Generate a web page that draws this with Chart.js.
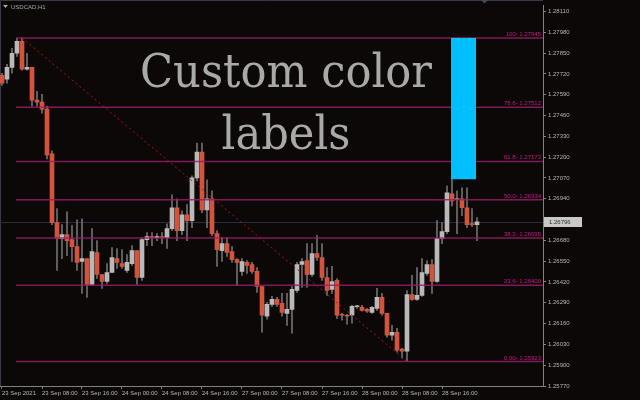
<!DOCTYPE html>
<html>
<head>
<meta charset="utf-8">
<script src="https://cdn.jsdelivr.net/npm/chart.js@4.4.1/dist/chart.umd.min.js"></script>
<style>
  html, body { margin: 0; padding: 0; background: #0c0807; }
  #wrap { width: 640px; height: 400px; position: relative; }
</style>
</head>
<body>
<div id="wrap"><canvas id="chart"></canvas></div>
<script>
// USDCAD H1, one bar per hour from 23 Sep 2021 00:00
const openP = [1.27712,1.27687,1.27761,1.27849,1.27923,1.27749,1.27761,1.27556,1.27544,1.27500,
  1.27220,1.26791,1.26691,1.26716,1.26685,1.26641,1.26548,1.26566,1.26405,1.26604,
  1.26467,1.26423,1.26479,1.26566,1.26535,1.26492,1.26535,1.26616,1.26448,1.26685,
  1.26703,1.26697,1.26703,1.26697,1.26753,1.26884,1.26741,1.26840,1.26803,1.27071,
  1.27232,1.26871,1.26940,1.26722,1.26616,1.26660,1.26610,1.26560,1.26486,1.26542,
  1.26529,1.26486,1.26392,1.26206,1.26280,1.26311,1.26286,1.26224,1.26249,1.26367,
  1.26529,1.26554,1.26467,1.26598,1.26573,1.26448,1.26374,1.26430,1.26218,1.26212,
  1.26212,1.26265,1.26262,1.26249,1.26230,1.26255,1.26324,1.26224,1.26087,1.26106,
  1.26000,1.25988,1.26342,1.26311,1.26336,1.26473,1.26529,1.26423,1.26691,1.26735,
  1.26971,1.26934,1.26940,1.26884,1.26784,1.26778];
const highP = [1.27724,1.27780,1.27880,1.27942,1.27945,1.27849,1.27763,1.27612,1.27593,1.27519,
  1.27239,1.26878,1.26778,1.26859,1.26772,1.26809,1.26815,1.26566,1.26753,1.26678,
  1.26467,1.26535,1.26635,1.26629,1.26622,1.26591,1.26647,1.26616,1.26697,1.26728,
  1.26728,1.26722,1.26728,1.26784,1.26965,1.26940,1.26865,1.26903,1.27083,1.27288,
  1.27288,1.27058,1.26990,1.26741,1.26697,1.26697,1.26641,1.26566,1.26566,1.26554,
  1.26542,1.26510,1.26392,1.26293,1.26330,1.26324,1.26349,1.26349,1.26392,1.26542,
  1.26566,1.26660,1.26660,1.26710,1.26660,1.26510,1.26517,1.26442,1.26224,1.26218,
  1.26274,1.26274,1.26274,1.26255,1.26268,1.26380,1.26349,1.26224,1.26149,1.26131,
  1.26006,1.26367,1.26461,1.26510,1.26566,1.26554,1.26560,1.26803,1.26791,1.27021,
  1.27077,1.26990,1.27008,1.27008,1.26878,1.26822];
const lowP = [1.27649,1.27662,1.27724,1.27830,1.27743,1.27743,1.27519,1.27519,1.27475,1.27189,
  1.26778,1.26492,1.26566,1.26585,1.26548,1.26492,1.26349,1.26324,1.26405,1.26442,
  1.26380,1.26411,1.26479,1.26504,1.26504,1.26479,1.26523,1.26405,1.26430,1.26647,
  1.26647,1.26678,1.26660,1.26629,1.26741,1.26678,1.26716,1.26678,1.26759,1.27052,
  1.26853,1.26759,1.26710,1.26517,1.26548,1.26579,1.26542,1.26398,1.26461,1.26473,
  1.26473,1.26355,1.26106,1.26187,1.26268,1.26268,1.26206,1.26149,1.26100,1.26355,
  1.26386,1.26386,1.26454,1.26554,1.26430,1.26336,1.26349,1.26193,1.26181,1.26156,
  1.26162,1.26255,1.26237,1.26230,1.26224,1.26243,1.26212,1.26075,1.26056,1.25981,
  1.25944,1.25923,1.26305,1.26305,1.26330,1.26461,1.26349,1.26417,1.26660,1.26722,
  1.26896,1.26722,1.26834,1.26759,1.26766,1.26678];
const closeP = [1.27662,1.27761,1.27849,1.27923,1.27749,1.27761,1.27556,1.27544,1.27500,1.27214,
  1.26791,1.26691,1.26716,1.26678,1.26641,1.26542,1.26566,1.26405,1.26610,1.26467,
  1.26423,1.26479,1.26573,1.26542,1.26517,1.26542,1.26616,1.26448,1.26685,1.26703,
  1.26697,1.26703,1.26697,1.26753,1.26884,1.26741,1.26840,1.26803,1.27071,1.27232,
  1.26871,1.26940,1.26722,1.26622,1.26660,1.26604,1.26560,1.26542,1.26548,1.26523,
  1.26486,1.26392,1.26212,1.26280,1.26311,1.26280,1.26230,1.26249,1.26374,1.26529,
  1.26548,1.26467,1.26598,1.26573,1.26448,1.26367,1.26423,1.26212,1.26212,1.26206,
  1.26268,1.26268,1.26243,1.26237,1.26262,1.26324,1.26224,1.26087,1.26106,1.25994,
  1.25988,1.26342,1.26311,1.26336,1.26479,1.26529,1.26423,1.26691,1.26735,1.26977,
  1.26927,1.26940,1.26884,1.26778,1.26778,1.26796];

const xTickPos = [0, 8, 16, 24, 32, 40, 48, 56, 64, 72, 80, 88];
const xTickLabels = ['23 Sep 2021','23 Sep 08:00','23 Sep 16:00','24 Sep 00:00','24 Sep 08:00','24 Sep 16:00',
  '27 Sep 00:00','27 Sep 08:00','27 Sep 16:00','28 Sep 00:00','28 Sep 08:00','28 Sep 16:00'];
const yTicks = [1.25770,1.25900,1.26030,1.26160,1.26290,1.26420,1.26550,1.26680,1.26810,1.26940,
  1.27070,1.27200,1.27330,1.27460,1.27590,1.27720,1.27850,1.27980,1.28110];

// fibonacci retracement drawn from the high (bar 4) to the low (bar 81)
const fibLevels = ['100','78.6','61.8','50.0','38.2','23.6','0.00'];
const fibPrices = [1.27945,1.27512,1.27173,1.26934,1.26695,1.26400,1.25923];
const fibFrom = 2.8;
const trendFrom = [4, 1.27945];
const trendTo = [81, 1.25923];

// colored label box
const boxBars = [89.8, 94.8];
const boxPrices = [1.27945, 1.27062];

const symbolTitle = 'USDCAD,H1';
const bigText = ['Custom color', 'labels'];
const lastPrice = closeP[closeP.length - 1];

const BULL = '#b9b9b9', BEAR = '#d4533c', WICK = '#707070';
const FONT = 'Liberation Sans';

const bodies = openP.map((o, i) => ({ x: i, y: [o, closeP[i]] }));
const wicks = lowP.map((l, i) => ({ x: i, y: [l, highP[i]] }));
const bodyColors = openP.map((o, i) => closeP[i] >= o ? BULL : BEAR);

const overlay = {
  id: 'overlay',
  beforeDraw(chart) {
    const c = chart.ctx;
    c.save();
    c.fillStyle = '#0c0807';
    c.fillRect(0, 0, chart.width, chart.height);
    c.restore();
  },
  beforeDatasetsDraw(chart) {
    const c = chart.ctx, a = chart.chartArea;
    const x = chart.scales.x, y = chart.scales.y;
    c.save();
    // frame
    c.strokeStyle = '#3a3a44';
    c.lineWidth = 1;
    c.beginPath();
    c.moveTo(0.5, a.bottom); c.lineTo(0.5, 0.5); c.lineTo(a.right, 0.5);
    c.stroke();
    // symbol title
    c.fillStyle = '#a8a8a8';
    c.beginPath();
    c.moveTo(3, 5); c.lineTo(8, 5); c.lineTo(5.5, 8); c.closePath(); c.fill();
    c.font = '6px "' + FONT + '"';
    c.textBaseline = 'middle';
    c.fillText(symbolTitle, 11, 7);
    // shift marker
    c.fillStyle = '#4a4a56';
    c.beginPath();
    c.moveTo(481, 0); c.lineTo(488, 0); c.lineTo(484.5, 3.5); c.closePath(); c.fill();
    // big text
    c.fillStyle = '#a9a9a9';
    c.font = '47px "DejaVu Serif"';
    c.textAlign = 'center';
    c.textBaseline = 'alphabetic';
    [[bigText[0], 87], [bigText[1], 149]].forEach(([t, by]) => {
      c.save();
      c.translate(286, by);
      c.scale(0.92, 1);
      c.fillText(t, 0, 0);
      c.restore();
    });
    // current price line
    const py = Math.round(y.getPixelForValue(lastPrice)) + 0.5;
    c.strokeStyle = '#2c2c38';
    c.beginPath(); c.moveTo(a.left, py); c.lineTo(a.right, py); c.stroke();
    c.restore();
  },
  afterDatasetsDraw(chart) {
    const c = chart.ctx, a = chart.chartArea;
    const x = chart.scales.x, y = chart.scales.y;
    c.save();
    c.beginPath(); c.rect(a.left, a.top, a.right - a.left, a.bottom - a.top); c.clip();
    // fib levels
    c.strokeStyle = 'rgba(150,28,100,0.85)';
    c.lineWidth = 1.5;
    const fx = x.getPixelForValue(fibFrom);
    fibPrices.forEach(p => {
      const ly = y.getPixelForValue(p);
      c.beginPath(); c.moveTo(fx, ly); c.lineTo(a.right, ly); c.stroke();
    });
    // trend line
    c.strokeStyle = '#a8161a';
    c.lineWidth = 1;
    c.setLineDash([2, 3]);
    c.beginPath();
    c.moveTo(x.getPixelForValue(trendFrom[0]), y.getPixelForValue(trendFrom[1]));
    c.lineTo(x.getPixelForValue(trendTo[0]), y.getPixelForValue(trendTo[1]));
    c.stroke();
    c.setLineDash([]);
    // fib labels
    c.fillStyle = '#c8168a';
    c.font = '6px "' + FONT + '"';
    c.textAlign = 'right';
    c.textBaseline = 'alphabetic';
    fibPrices.forEach((p, i) => {
      c.fillText(fibLevels[i] + '- ' + p.toFixed(5), a.right - 2, y.getPixelForValue(p) - 2);
    });
    // blue box
    const bx0 = x.getPixelForValue(boxBars[0]), bx1 = x.getPixelForValue(boxBars[1]);
    const by0 = y.getPixelForValue(boxPrices[0]), by1 = y.getPixelForValue(boxPrices[1]);
    c.fillStyle = '#00bfff';
    c.fillRect(bx0, by0, bx1 - bx0, by1 - by0);
    c.restore();
  },
  afterDraw(chart) {
    const c = chart.ctx, a = chart.chartArea;
    const y = chart.scales.y;
    const py = Math.round(y.getPixelForValue(lastPrice));
    c.save();
    c.fillStyle = '#c8c8c8';
    c.fillRect(a.right + 1, py - 5, 38, 10);
    c.fillStyle = '#303030';
    c.font = '6px "' + FONT + '"';
    c.textBaseline = 'middle';
    c.fillText(lastPrice.toFixed(5), a.right + 6, py + 0.5);
    c.restore();
  }
};

new Chart(document.getElementById('chart'), {
  type: 'bar',
  data: {
    datasets: [
      { data: bodies, backgroundColor: bodyColors, barThickness: 4, grouped: false, minBarLength: 1 },
      { data: wicks, backgroundColor: WICK, barThickness: 1, grouped: false }
    ]
  },
  options: {
    responsive: true,
    maintainAspectRatio: false,
    animation: false,
    devicePixelRatio: 1,
    layout: { padding: { top: 4, left: 0, right: 0, bottom: 0 } },
    plugins: { legend: { display: false }, tooltip: { enabled: false } },
    scales: {
      x: {
        type: 'linear',
        min: -0.4,
        max: 108.2,
        offset: false,
        grid: { display: true, drawOnChartArea: false, drawTicks: true, tickLength: 3, color: '#808080', offset: false },
        border: { display: true, color: '#808080' },
        ticks: {
          color: '#b4b4b4', font: { family: FONT, size: 6 }, align: 'start',
          padding: 1, maxRotation: 0, autoSkip: false,
          callback: v => xTickLabels[xTickPos.indexOf(v)]
        },
        afterBuildTicks: s => { s.ticks = xTickPos.map(v => ({ value: v })); },
        afterFit: s => { s.height = 14; }
      },
      y: {
        type: 'linear',
        position: 'right',
        beginAtZero: false,
        min: 1.25770,
        max: 1.28147,
        grid: { display: true, drawOnChartArea: false, drawTicks: true, tickLength: 3, color: '#808080' },
        border: { display: true, color: '#808080' },
        ticks: {
          color: '#b4b4b4', font: { family: FONT, size: 6 }, padding: 2,
          callback: v => v.toFixed(5)
        },
        afterBuildTicks: s => { s.ticks = yTicks.map(v => ({ value: v })); },
        afterFit: s => { s.width = 97; }
      }
    }
  },
  plugins: [overlay]
});
</script>
</body>
</html>
